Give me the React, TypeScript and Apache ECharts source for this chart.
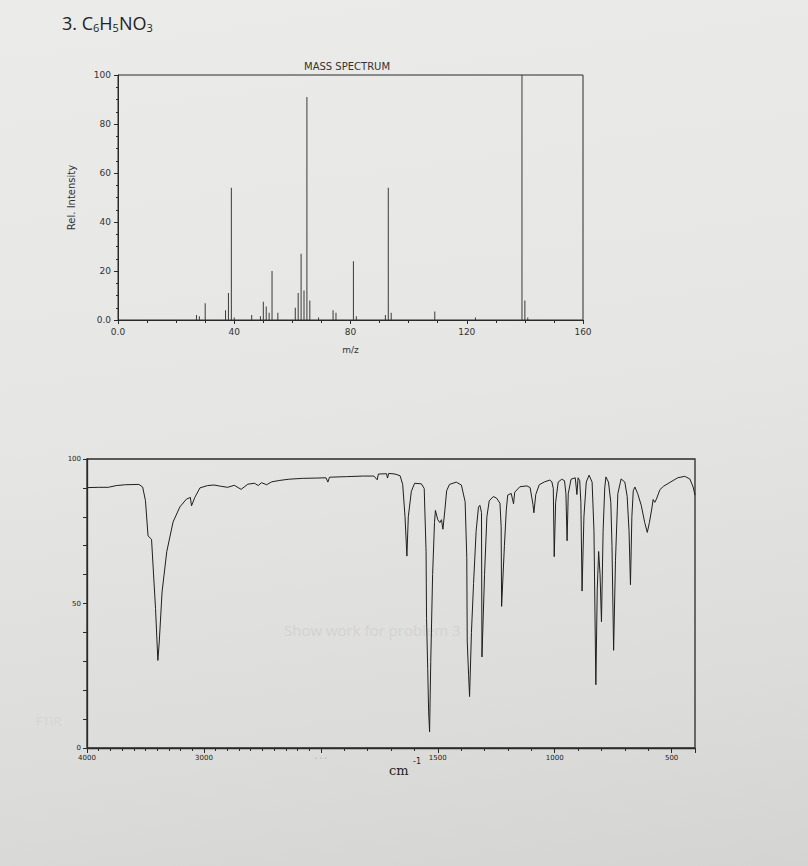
import React, { useEffect, useRef } from "react";
import * as echarts from "echarts";

// ---------- Mass spectrum data ----------
const msMz = [27, 28, 30, 37, 38, 39, 40, 46, 49, 50, 51, 52, 53, 55, 61, 62, 63, 64, 65, 66, 69, 74, 75, 81, 82, 92, 93, 94, 109, 123, 139, 140, 141];
const msIntensity = [2, 1.5, 6.8, 4, 11, 54, 1, 2, 1.5, 7.5, 5.5, 3, 20, 3, 5, 11, 27, 12, 91, 8, 1, 4, 3, 24, 1.5, 2, 54, 3, 3.5, 1, 100, 8, 1];
const msXTicks = [0, 40, 80, 120, 160];
const msYTicks = [0, 20, 40, 60, 80, 100];

// ---------- IR spectrum data ----------
const irWavenumber = [
  4000, 3900, 3818, 3750, 3672, 3556, 3524, 3500, 3478, 3448, 3414, 3394, 3382, 3358, 3318, 3264, 3206, 3150, 3116, 3106,
  3078, 3034, 2970, 2914, 2860, 2798, 2740, 2682, 2624, 2566, 2536, 2508, 2464, 2420, 2350, 2274, 2158, 2040, 1978, 1970,
  1963, 1890, 1817, 1773, 1759, 1754, 1719, 1715, 1710, 1683, 1661, 1650, 1640, 1632, 1626, 1613, 1599, 1570, 1558, 1550,
  1548, 1543, 1539, 1535, 1530, 1522, 1514, 1510, 1500, 1491, 1484, 1478, 1470, 1462, 1450, 1421, 1399, 1383, 1376, 1374,
  1368, 1364, 1356, 1347, 1336, 1326, 1320, 1313, 1311, 1300, 1290, 1280, 1263, 1249, 1234, 1229, 1227, 1215, 1207, 1201,
  1186, 1176, 1171, 1149, 1119, 1105, 1093, 1089, 1081, 1066, 1043, 1021, 1012, 1006, 1002, 996, 985, 970, 958, 952,
  947, 942, 930, 912, 905, 900, 893, 888, 883, 875, 865, 853, 840, 832, 824, 818, 812, 806, 800, 793,
  786, 781, 770, 760, 755, 748, 740, 730, 716, 700, 690, 682, 676, 670, 664, 657, 645, 630, 615, 604,
  595, 585, 579, 572, 565, 550, 534, 503, 474, 444, 422, 408, 400
];
const irTransmittance = [
  90.1, 90.2, 90.2, 90.8, 91.1, 91.2, 90.3, 85.6, 73.4, 72.2, 48.3, 30.3, 36.7, 54.0, 67.9, 78.2, 83.4, 86.1, 86.7, 83.8,
  86.7, 90.0, 90.8, 91.0, 90.6, 90.2, 90.9, 89.5, 91.3, 91.6, 90.8, 91.8, 91.1, 92.1, 92.6, 93.0, 93.3, 93.4, 93.5, 92.0,
  93.7, 93.9, 94.1, 94.1, 92.8, 94.8, 94.9, 93.4, 95.0, 94.8, 94.2, 91.2, 80, 66.4, 80, 88.8, 91.6, 91.4, 89.8, 67.9,
  44.8, 27.5, 12.5, 5.6, 30, 60, 78, 82.2, 79, 78, 79, 75.7, 82, 89, 91.2, 92.0, 91.0, 85.2, 66, 37,
  25, 17.8, 40, 56.9, 75, 83.3, 84, 81.5, 31.5, 60, 80, 85.5, 87, 86.5, 84.7, 76.6, 49, 70, 82.3, 87.5,
  88.1, 84.5, 88.5, 90.4, 90.7, 90.1, 84.3, 81.4, 87.7, 91.1, 92.1, 92.7, 92.1, 89.8, 66.2, 85, 92, 93, 92.5, 88,
  71.7, 88, 93, 93.5, 87.7, 93.5, 92.5, 85, 54.3, 80, 92, 94.4, 92, 75, 21.9, 55, 68, 60, 43.7, 75,
  90, 93.8, 92, 85, 70, 33.8, 65, 88, 93.1, 92, 87, 75, 56.5, 80, 89, 90.3, 88, 84, 78, 74.6,
  78, 82.7, 86, 85, 86.1, 89.4, 90.6, 92.1, 93.5, 94, 93.1, 90.3, 87.5
];
const irXTickLabels = [4000, 3000, 2000, 1500, 1000, 500];
const irYTickLabels = [0, 50, 100];

// piecewise wavenumber scale: 4000-2000 compressed by 2
const toU = (wn: number) => (wn >= 2000 ? (4000 - wn) / 2 : 1000 + (2000 - wn));
const fromU = (u: number) => (u <= 1000 ? 4000 - 2 * u : 3000 - u);

export default function App() {
  const ref = useRef<HTMLDivElement>(null);

  useEffect(() => {
    if (!ref.current) return;
    const chart = echarts.init(ref.current, null, { renderer: "svg" });
    const ink = "#2a2a2a";
    const msFont = "DejaVu Sans";
    const irW = 608;

    chart.setOption({
      animation: false,
      backgroundColor: "transparent",
      grid: [
        { left: 118, top: 75, width: 465, height: 245, show: true, borderColor: ink, borderWidth: 1, backgroundColor: "transparent" },
        { left: 87, top: 459, width: irW, height: 289, show: true, borderColor: ink, borderWidth: 1.3, backgroundColor: "transparent" },
        { left: 87, top: 459, width: (irW * 1000) / 2600, height: 289, show: false },
      ],
      xAxis: [
        {
          gridIndex: 0, type: "value", min: 0, max: 160, interval: 40,
          axisLine: { lineStyle: { color: ink, width: 1 } },
          axisTick: { length: 4, lineStyle: { color: ink } },
          minorTick: { show: true, splitNumber: 4, length: 3, lineStyle: { color: ink } },
          splitLine: { show: false },
          axisLabel: {
            color: "#333", fontSize: 9, fontFamily: msFont, margin: 7,
            formatter: (v: number) => (msXTicks.includes(v) ? (v === 0 ? "0.0" : String(v)) : ""),
          },
          name: "m/z", nameLocation: "middle", nameGap: 25,
          nameTextStyle: { color: "#333", fontSize: 9, fontFamily: msFont },
        },
        {
          gridIndex: 1, type: "value", min: 0, max: 2600, interval: 500,
          axisLine: { lineStyle: { color: ink, width: 1.3 } },
          axisTick: { length: 5, lineStyle: { color: ink } },
          minorTick: { show: true, splitNumber: 5, length: 3, lineStyle: { color: ink } },
          splitLine: { show: false },
          axisLabel: {
            color: "#222", fontSize: 7, fontFamily: "DejaVu Sans", margin: 6,
            formatter: (v: number) => {
              if (v % 500 !== 0) return "";
              const wn = fromU(v);
              if (!irXTickLabels.includes(wn)) return "";
              return wn === 2000 ? "{f|- - -}" : String(wn);
            },
            rich: { f: { color: "#9a9a9a", fontSize: 7 } },
          },
        },
        {
          gridIndex: 2, type: "value", min: 0, max: 1000, interval: 50,
          axisLine: { show: false },
          axisTick: { show: true, length: 3, lineStyle: { color: ink } },
          axisLabel: { show: false },
          splitLine: { show: false },
        },
      ],
      yAxis: [
        {
          gridIndex: 0, type: "value", min: 0, max: 100, interval: 20,
          axisLine: { show: true, lineStyle: { color: ink, width: 1 } },
          axisTick: { show: true, length: 4, lineStyle: { color: ink } },
          minorTick: { show: true, splitNumber: 4, length: 2, lineStyle: { color: ink } },
          splitLine: { show: false },
          axisLabel: {
            color: "#333", fontSize: 9, fontFamily: msFont, margin: 7,
            formatter: (v: number) => (msYTicks.includes(v) ? (v === 0 ? "0.0" : String(v)) : ""),
          },
          name: "Rel. Intensity", nameLocation: "middle", nameGap: 42,
          nameTextStyle: { color: "#333", fontSize: 10, fontFamily: msFont },
        },
        {
          gridIndex: 1, type: "value", min: 0, max: 100, interval: 10,
          axisLine: { show: true, lineStyle: { color: ink, width: 1.3 } },
          axisTick: { show: true, length: 4, lineStyle: { color: ink } },
          splitLine: { show: false },
          axisLabel: {
            color: "#222", fontSize: 7, fontFamily: "DejaVu Sans", margin: 6,
            formatter: (v: number) => (irYTickLabels.includes(v) ? String(v) : ""),
          },
        },
        { gridIndex: 2, type: "value", min: 0, max: 100, show: false },
      ],
      series: [
        {
          type: "bar", xAxisIndex: 0, yAxisIndex: 0, barWidth: 1, silent: true,
          itemStyle: { color: "#3a3a3a" },
          data: msMz.map((m, i) => [m, msIntensity[i]]),
        },
        {
          type: "line", xAxisIndex: 1, yAxisIndex: 1, showSymbol: false, silent: true,
          lineStyle: { color: "#1f1f1f", width: 1 },
          data: irWavenumber.map((wn, i) => [toU(wn), irTransmittance[i]]),
        },
      ],
      graphic: [
        {
          type: "text", left: 62, top: 14,
          style: {
            text: "3. C{s|6}H{s|5}NO{s|3}",
            fill: "#222", fontSize: 18, fontFamily: "Open Sans",
            rich: { s: { fontSize: 11, fill: "#222", fontFamily: "Open Sans", padding: [9, 0, 0, 0] } },
          },
        },
        {
          type: "text", left: 304, top: 61,
          style: { text: "MASS SPECTRUM", fill: "#333", fontSize: 10, fontFamily: msFont },
        },
        {
          type: "text", left: 389, top: 764,
          style: { text: "cm", fill: "#222", fontSize: 13, fontFamily: "DejaVu Serif" },
        },
        {
          type: "text", left: 413, top: 757,
          style: { text: "-1", fill: "#222", fontSize: 8, fontFamily: "DejaVu Sans" },
        },
        {
          type: "text", left: 284, top: 622,
          style: { text: "Show work for problem 3", fill: "#d3d3d1", fontSize: 15, fontFamily: "Open Sans" },
        },
        {
          type: "text", left: 36, top: 714,
          style: { text: "FTIR", fill: "#d6d6d4", fontSize: 13, fontFamily: "Open Sans" },
        },
      ],
    });

    return () => chart.dispose();
  }, []);

  return (
    <div
      style={{
        position: "absolute", left: 0, top: 0, width: 808, height: 866,
        background: "linear-gradient(172deg, #ebebe9 0%, #e6e6e4 45%, #dcdcda 80%, #d4d4d2 100%)",
        overflow: "hidden",
      }}
    >
      <div ref={ref} style={{ width: 808, height: 866 }} />
    </div>
  );
}
